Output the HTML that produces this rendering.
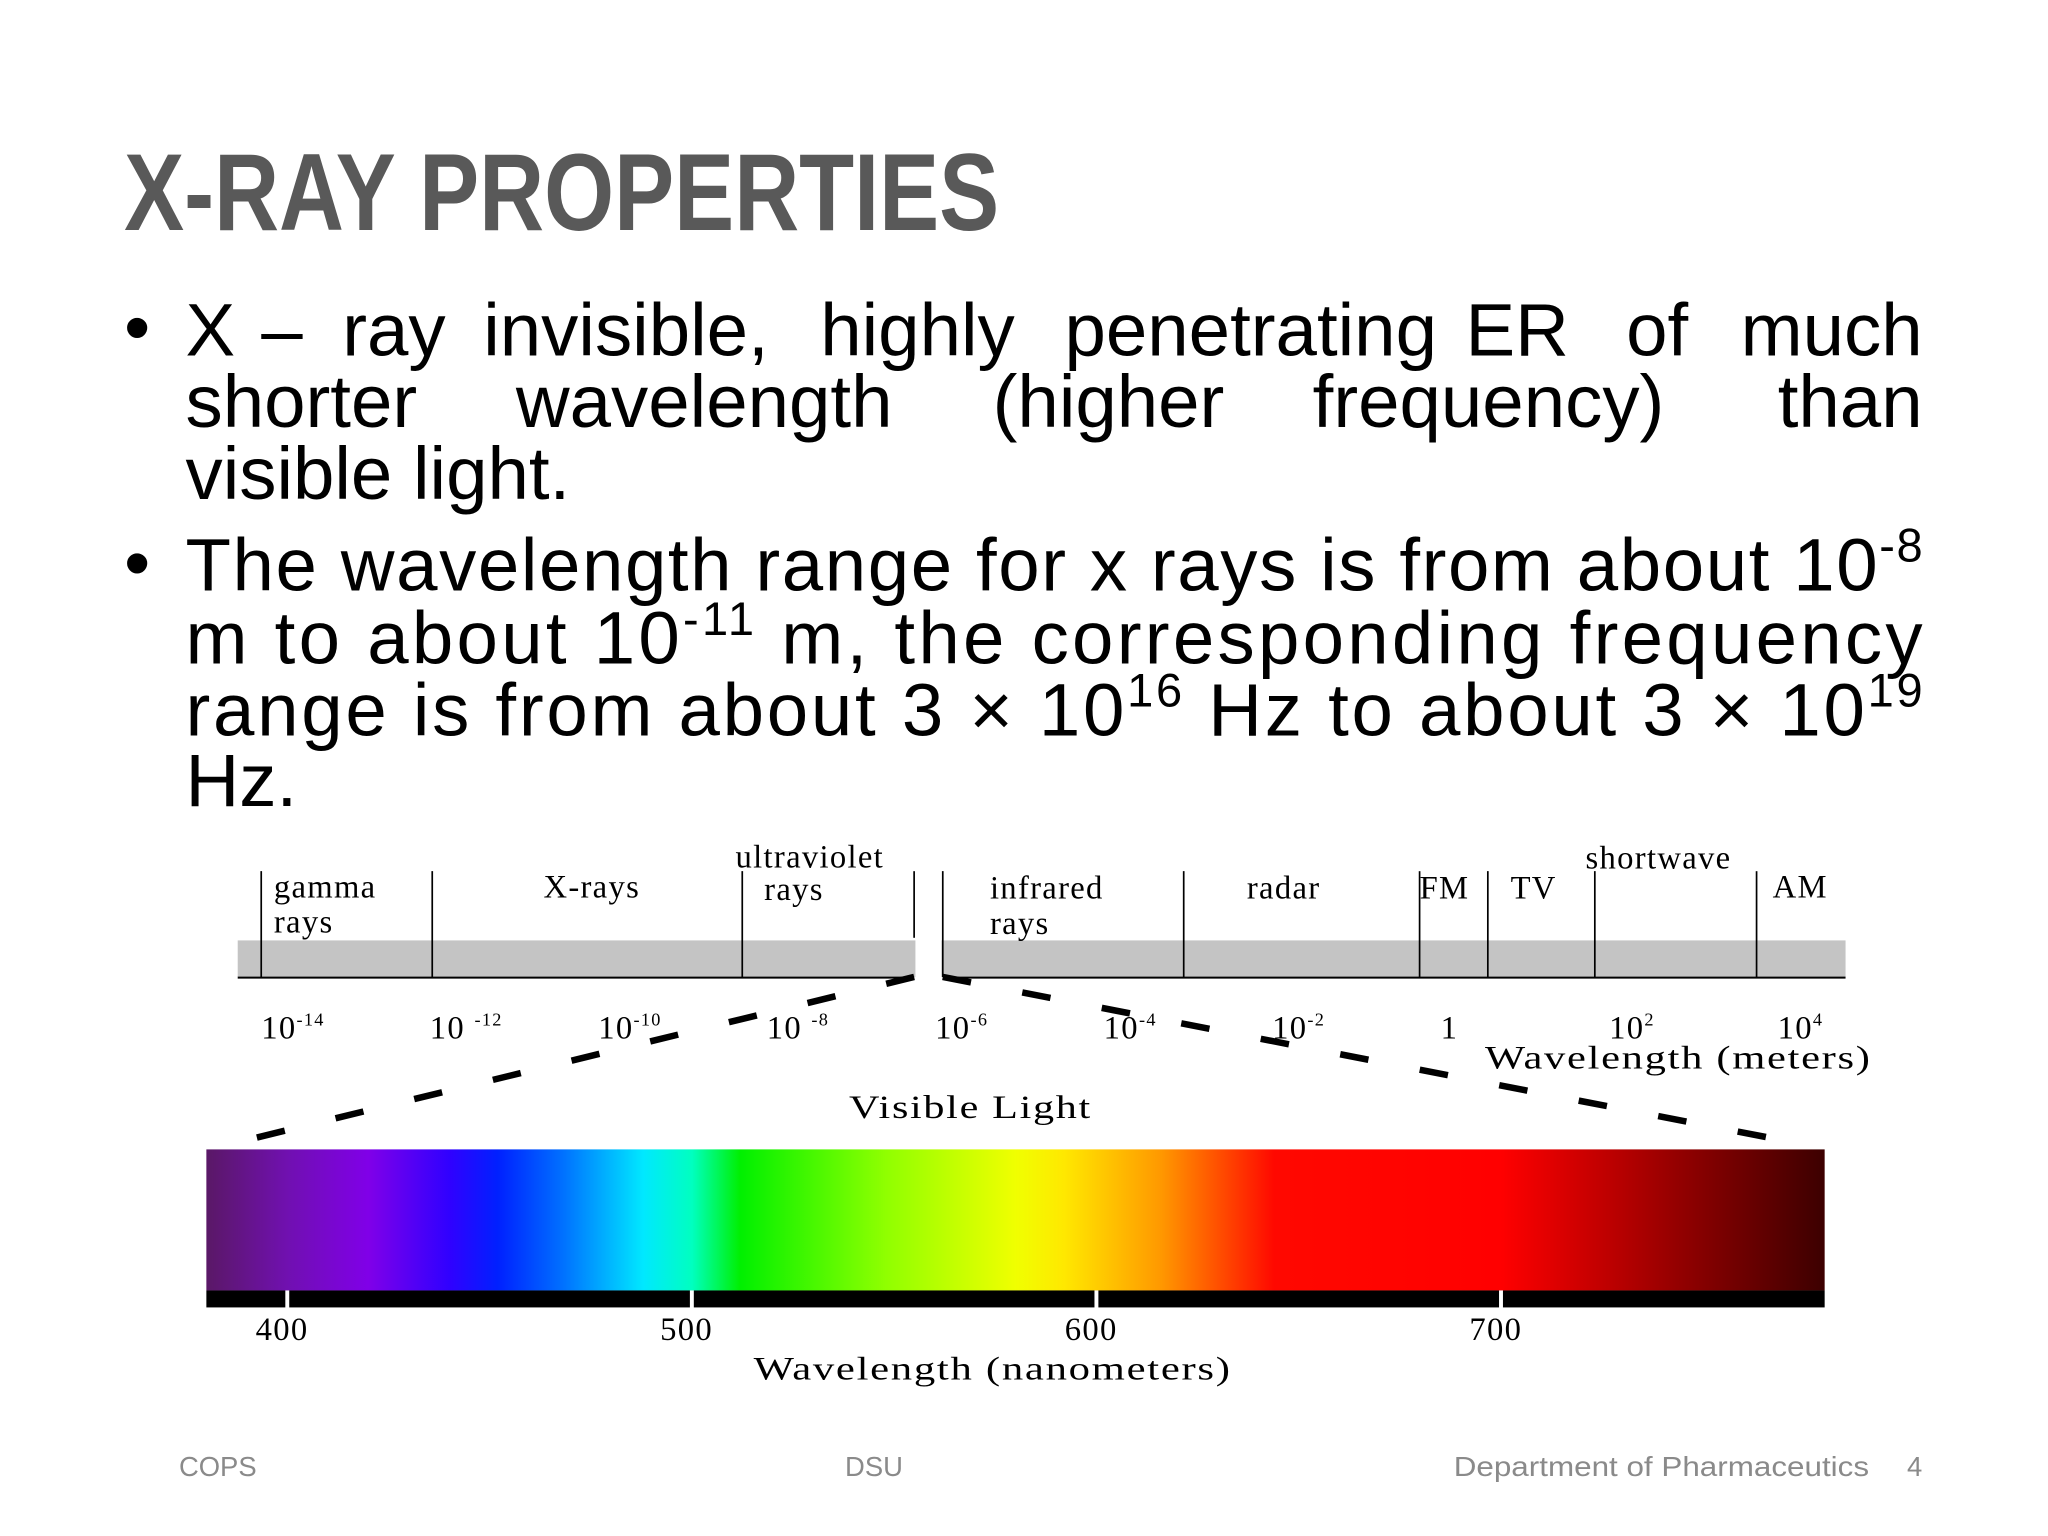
<!DOCTYPE html>
<html><head><meta charset="utf-8">
<style>
html,body{margin:0;padding:0;background:#fff;}
svg{display:block;}
.b{font-family:"Liberation Sans",sans-serif;fill:#000;}
.s{font-family:"Liberation Serif",serif;fill:#000;font-size:25px;letter-spacing:1px;}
.f{font-family:"Liberation Sans",sans-serif;fill:#8a8a8a;font-size:21px;}
</style></head>
<body>
<svg id="slide" width="2048" height="1536" viewBox="0 0 1568 1176" xmlns="http://www.w3.org/2000/svg">
<defs>
<linearGradient id="spec" x1="0" x2="1" y1="0" y2="0">
<stop offset="0" stop-color="#5a1866"/>
<stop offset="0.05" stop-color="#7010b0"/>
<stop offset="0.1" stop-color="#8000e8"/>
<stop offset="0.15" stop-color="#3000ff"/>
<stop offset="0.18" stop-color="#0020ff"/>
<stop offset="0.22" stop-color="#0070ff"/>
<stop offset="0.27" stop-color="#00e8ff"/>
<stop offset="0.3" stop-color="#00ffc0"/>
<stop offset="0.33" stop-color="#00f000"/>
<stop offset="0.42" stop-color="#90ff00"/>
<stop offset="0.5" stop-color="#f0ff00"/>
<stop offset="0.53" stop-color="#ffe800"/>
<stop offset="0.59" stop-color="#ff9800"/>
<stop offset="0.66" stop-color="#ff0800"/>
<stop offset="0.8" stop-color="#ff0000"/>
<stop offset="0.88" stop-color="#b00000"/>
<stop offset="1" stop-color="#3c0000"/>
</linearGradient>
</defs>
<text x="95" y="176" font-family="Liberation Sans, sans-serif" font-weight="bold" font-size="84" fill="#595959" textLength="670" lengthAdjust="spacingAndGlyphs">X-RAY PROPERTIES</text>

<g font-size="57">
<text class="b" x="95" y="270">•</text>
<text class="b" y="272"><tspan x="142">X</tspan><tspan x="200">–</tspan><tspan x="262">ray</tspan><tspan x="370">invisible,</tspan><tspan x="628">highly</tspan><tspan x="815">penetrating</tspan><tspan x="1122">ER</tspan><tspan x="1245">of</tspan><tspan x="1472" text-anchor="end">much</tspan></text>
<text class="b" y="327"><tspan x="142">shorter</tspan><tspan x="395">wavelength</tspan><tspan x="760">(higher</tspan><tspan x="1005">frequency)</tspan><tspan x="1472" text-anchor="end">than</tspan></text>
<text class="b" x="142" y="382">visible light.</text>
<text class="b" x="95" y="450">•</text>
<text class="b" x="142" y="452" textLength="1330" lengthAdjust="spacing">The wavelength range for x rays is from about 10<tspan font-size="36" dy="-22">-8</tspan></text>
<text class="b" x="142" y="508" textLength="1330" lengthAdjust="spacing">m to about 10<tspan font-size="36" dy="-22">-11</tspan><tspan dy="22"> m, the corresponding frequency</tspan></text>
<text class="b" x="142" y="563" textLength="1330" lengthAdjust="spacing">range is from about 3 × 10<tspan font-size="36" dy="-22">16</tspan><tspan dy="22"> Hz to about 3 × 10</tspan><tspan font-size="36" dy="-22">19</tspan></text>
<text class="b" x="142" y="617">Hz.</text>
</g>

<g id="chart"></g>

<text class="f" x="137" y="1130">COPS</text>
<text class="f" x="647" y="1130">DSU</text>
<text class="f" x="1113" y="1130" textLength="318" lengthAdjust="spacingAndGlyphs">Department of Pharmaceutics</text>
<text class="f" x="1460" y="1130">4</text>
</svg>
<script>
// wavelength band separators (log10 meters) and labels
const bandBoundaries = [-14, -11.97, -8.29, -6.25, -5.91, -3.05, -0.25, 0.56, 1.83, 3.75];
const bandLabels = [
  {t:"gamma", e:-13.85, y:687}, {t:"rays", e:-13.85, y:714},
  {t:"X-rays", e:-10.65, y:687},
  {t:"ultraviolet", e:-8.37, y:664}, {t:"rays", e:-8.03, y:689},
  {t:"infrared", e:-5.35, y:688}, {t:"rays", e:-5.35, y:715},
  {t:"radar", e:-2.3, y:688},
  {t:"FM", e:-0.25, y:688},
  {t:"TV", e:0.83, y:688},
  {t:"shortwave", e:1.72, y:665},
  {t:"AM", e:3.94, y:687}
];
const tickExps = [-14, -12, -10, -8, -6, -4, -2, 0, 2, 4];
const tickBase = ["10","10 ","10","10 ","10","10","10","1","10","10"];
const tickSup = ["-14","-12","-10","-8","-6","-4","-2","","2","4"];
const nmTicks = [400, 500, 600, 700];
const nmRange = [380, 780];

const NS = "http://www.w3.org/2000/svg";
const g = document.getElementById('chart');
function xLog(e){ return 200 + (e + 14) * 64.5; }
function xNm(n){ return 158 + (n - nmRange[0]) * (1397 - 158) / (nmRange[1] - nmRange[0]); }
function mk(tag, attrs){ const el = document.createElementNS(NS, tag); for (const k in attrs) el.setAttribute(k, attrs[k]); g.appendChild(el); return el; }

let el = mk('rect', {x:182, y:720, width:1231, height:28, fill:'#c4c4c4'});


el = mk('rect', {x:xLog(bandBoundaries[3])+1, y:715, width:xLog(bandBoundaries[4])-xLog(bandBoundaries[3])-2, height:36, fill:'#fff'});


el = mk('line', {x1:182, y1:748.5, x2:xLog(bandBoundaries[3]), y2:748.5, stroke:'#000', 'stroke-width':1.5});


el = mk('line', {x1:xLog(bandBoundaries[4]), y1:748.5, x2:1413, y2:748.5, stroke:'#000', 'stroke-width':1.5});


bandBoundaries.forEach((b, i) => {
  const x = xLog(b);
  const y2 = (i === 3) ? 718 : 748;
  const l = mk('line', {x1:x, y1:667, x2:x, y2:y2, stroke:'#000', 'stroke-width':1.3});
  
  
});
bandLabels.forEach(b => {
  const t = mk('text', {x:xLog(b.e), y:b.y, class:'s'});
  t.textContent = b.t;
  
  
});
tickExps.forEach((e, i) => {
  const t = mk('text', {x:xLog(e), y:795, class:'s', 'font-size':'26'});
  t.textContent = tickBase[i];
  if (tickSup[i]) {
    const s = document.createElementNS(NS, 'tspan');
    s.setAttribute('font-size', '14'); s.setAttribute('dy', '-10');
    s.textContent = tickSup[i];
    t.appendChild(s);
  }
  
  
});
el = mk('text', {x:1137, y:818, class:'s', textLength:296, lengthAdjust:'spacingAndGlyphs'});
el.textContent = 'Wavelength (meters)';



el = mk('line', {x1:xLog(bandBoundaries[3]), y1:748, x2:180, y2:875, stroke:'#000', 'stroke-width':5, 'stroke-dasharray':'22 40'});


el = mk('line', {x1:xLog(bandBoundaries[4]), y1:748, x2:1375, y2:875, stroke:'#000', 'stroke-width':5, 'stroke-dasharray':'22 40'});



el = mk('text', {x:743, y:856, class:'s', 'text-anchor':'middle', textLength:186, lengthAdjust:'spacingAndGlyphs'});
el.textContent = 'Visible Light';



el = mk('rect', {x:xNm(nmRange[0]), y:880, width:xNm(nmRange[1])-xNm(nmRange[0]), height:108, fill:'url(#spec)'});


el = mk('rect', {x:xNm(nmRange[0]), y:988, width:xNm(nmRange[1])-xNm(nmRange[0]), height:13, fill:'#000'});


nmTicks.forEach(n => {
  const x = xNm(n);
  const l = mk('rect', {x:x-1.5, y:988, width:3, height:14, fill:'#fff'});
  
  
  const t = mk('text', {x:x-4, y:1026, class:'s', 'text-anchor':'middle', 'font-size':'26'});
  t.textContent = n;
  
  
});
el = mk('text', {x:760, y:1056, class:'s', 'text-anchor':'middle', textLength:366, lengthAdjust:'spacingAndGlyphs'});
el.textContent = 'Wavelength (nanometers)';


</script>
</body></html>
